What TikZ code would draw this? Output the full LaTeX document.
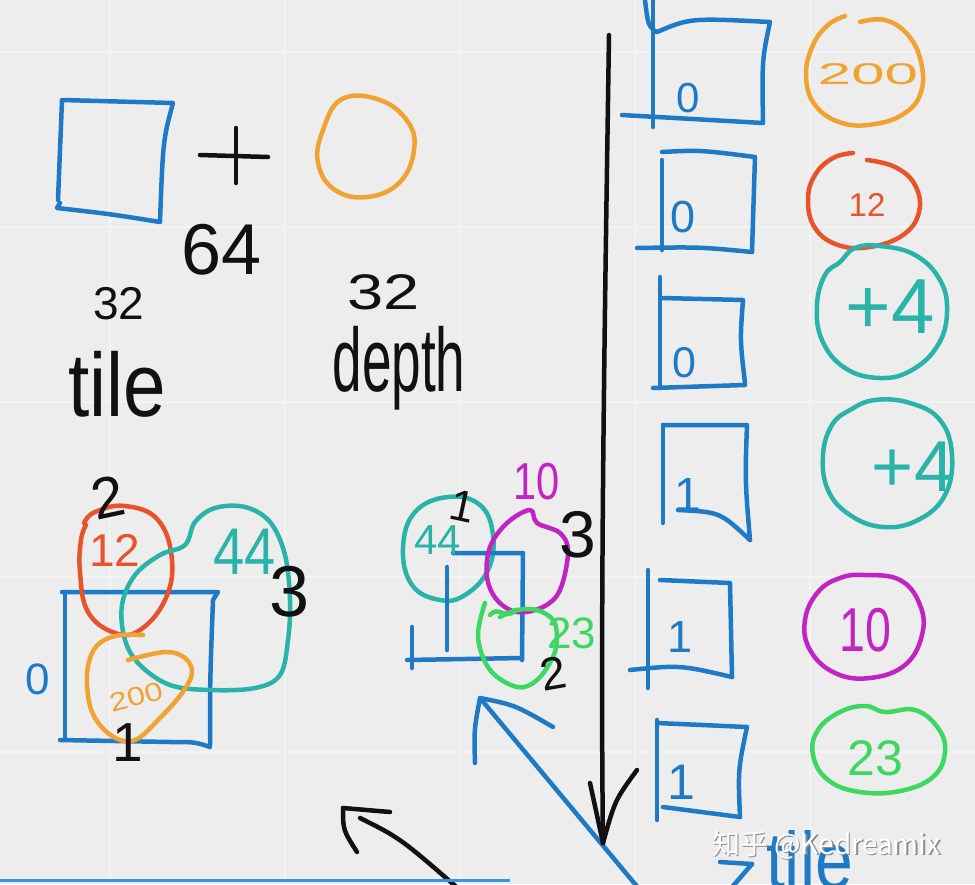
\documentclass[tikz,border=0pt]{standalone}
\usepackage{graphicx}
\usepackage{fontspec}
\setmainfont{Liberation Sans}
\newfontfamily\cjkfont{Noto Sans CJK SC}
\definecolor{cbg}{HTML}{EDEDED}
\definecolor{cgrid}{HTML}{F3F3F3}
\definecolor{cblue}{HTML}{1F7AC6}
\definecolor{corange}{HTML}{F0A232}
\definecolor{cred}{HTML}{E8532C}
\definecolor{cteal}{HTML}{2AB3A8}
\definecolor{cmag}{HTML}{C224C4}
\definecolor{cgreen}{HTML}{3DD862}
\definecolor{cblack}{HTML}{111111}
\definecolor{cbar}{HTML}{3399DD}
\newcommand\hfs[1]{\fontsize{#1}{#1}\selectfont}
\begin{document}
\begin{tikzpicture}[x=1pt,y=-1pt,
  pen/.style={line width=4.5pt,line cap=round,line join=round},
  bp/.style={pen,draw=cblue},
  op/.style={pen,draw=corange},
  rp/.style={pen,draw=cred},
  tp/.style={pen,draw=cteal},
  mp/.style={pen,draw=cmag},
  gp/.style={pen,draw=cgreen},
  kp/.style={pen,draw=cblack},
  txt/.style={inner sep=0pt,outer sep=0pt}]
\fill[cbg] (0,0) rectangle (975,884);
\useasboundingbox (0,0) rectangle (975,884);
\clip (0,0) rectangle (975,884);
% faint grid
\foreach \gx in {110,285,460,635,810} \draw[cgrid,line width=1.5pt] (\gx,0) -- (\gx,884);
\foreach \gy in {52,227,402,577,752} \draw[cgrid,line width=1.5pt] (0,\gy) -- (975,\gy);

% ---- top-left legend ----
\draw[bp] (58,200) -- (62,100) -- (173,103) .. controls (163,140) .. (160,222) .. controls (110,214) .. (57,208) -- (60,203);
\draw[kp] (200,155) -- (268,157);
\draw[kp] (236,128) -- (236,183);
\draw[op] plot[smooth cycle,tension=0.7] coordinates {(342,99) (380,100) (408,122) (414,150) (400,182) (368,197) (335,190) (318,163) (323,130)};
\node[txt,text=cblack,font=\hfs{72}] (t64) at (222,250) {64};
\node[txt,text=cblack,font=\hfs{46}] (t32a) at (119,304) {32};
\node[txt,text=cblack,font=\hfs{90},anchor=base] (ttile) at (117,416) {\scalebox{0.85}[1]{tile}};
\node[txt,text=cblack,font=\hfs{50}] (t32b) at (384,292) {\scalebox{1.3}[1]{32}};
\node[txt,text=cblack,font=\hfs{90},anchor=base] (tdepth) at (399,391) {\scalebox{0.59}[1]{depth}};

% ---- left group ----
\draw[bp] (65,595) -- (65,738);
\draw[bp] (62,592) -- (218,592) -- (213,600) .. controls (210,680) .. (210,745);
\draw[bp] (60,740) -- (170,742) .. controls (195,742) .. (210,747);
\draw[rp] plot[smooth,tension=0.7] coordinates {(84,523) (95,512) (125,506) (158,520) (172,560) (165,600) (140,630) (115,633) (88,612) (80,572) (81,540) (86,525)};
\draw[tp] plot[smooth cycle,tension=0.6] coordinates {(185,545) (160,555) (135,575) (122,605) (125,640) (140,665) (170,685) (210,690) (255,688) (280,675) (288,640) (290,600) (285,555) (270,522) (245,507) (215,508) (195,522)};
\draw[op] plot[smooth,tension=0.6] coordinates {(143,635) (115,636) (95,648) (87,675) (92,712) (112,736) (135,740) (160,718) (182,693) (192,673) (185,658) (165,652) (128,660)};
\node[txt,text=cblack,font=\hfs{58},rotate=12] (ltop) at (108,497) {2};
\node[txt,text=cred,font=\hfs{46}] (l12) at (115,550) {12};
\node[txt,text=cteal,font=\hfs{66}] (l44) at (245,552) {\scalebox{0.85}[1]{44}};
\node[txt,text=cblack,font=\hfs{72}] (l3) at (290,592) {3};
\node[txt,text=cblue,font=\hfs{44}] (l0) at (38,679) {0};
\node[txt,text=corange,font=\hfs{26},rotate=15] (l200) at (136,697) {\scalebox{1.25}[1]{200}};
\node[txt,text=cblack,font=\hfs{55}] (l1) at (128,743) {1};

% ---- middle group ----
\draw[tp] plot[smooth cycle,tension=0.7] coordinates {(403,548) (415,512) (448,497) (480,505) (493,535) (488,570) (465,595) (440,600) (412,585)};
\draw[bp] (453,553) -- (523,553) -- (522,660);
\draw[bp] (407,660) -- (522,658);
\draw[bp] (447,567) -- (447,650);
\draw[bp] (412,627) -- (412,668);
\draw[mp] plot[smooth cycle,tension=0.6] coordinates {(530,510) (537,523) (560,533) (568,552) (560,590) (543,607) (517,612) (497,600) (487,577) (490,547) (507,523)};
\draw[gp] plot[smooth,tension=0.6] coordinates {(485,603) (478,637) (490,670) (517,687) (537,680) (553,657) (557,637) (553,620) (537,610) (517,610) (500,617)};
\draw[gp] (490,615) .. controls (498,605) and (505,620) .. (515,611);
\node[txt,text=cteal,font=\hfs{42}] (m44) at (438,540) {44};
\node[txt,text=cblack,font=\hfs{44},rotate=-12] (m1) at (463,506) {1};
\node[txt,text=cmag,font=\hfs{52}] (m10) at (537,482) {\scalebox{0.8}[1]{10}};
\node[txt,text=cblack,font=\hfs{66}] (m3) at (578,535) {3};
\node[txt,text=cgreen,font=\hfs{44}] (m23) at (572,633) {23};
\node[txt,text=cblack,font=\hfs{46},rotate=10] (m2) at (553,673) {2};
% blue arrow
\coordinate (atip) at (480,698);
\coordinate (aend) at (640,890);
\draw[bp] (aend) -- (atip);
\draw[bp] (475,763) .. controls (474,730) .. (atip) .. controls (515,705) .. (553,727);

% ---- black arrows ----
\coordinate (vtop) at (609,35);
\coordinate (vbot) at (603,843);
\draw[kp] (vtop) .. controls (605,300) and (600,600) .. (vbot);
\draw[kp] (590,783) -- (vbot);
\draw[kp] (637,770) .. controls (615,800) .. (vbot);
\coordinate (btip) at (343,808);
\coordinate (bend) at (460,890);
\draw[kp] (btip) -- (390,812);
\draw[kp] (btip) .. controls (343,830) .. (357,852);
\draw[kp] (360,818) .. controls (400,838) .. (bend);

% ---- right column squares ----
\draw[bp] (653,0) -- (653,127);
\draw[bp] (645,0) .. controls (648,25) .. (656,32);
\draw[bp] (657,32) .. controls (690,18) .. (770,22) .. controls (762,60) .. (763,122);
\draw[bp] (622,115) -- (763,123);
\draw[bp] (662,160) -- (662,250);
\draw[bp] (662,152) .. controls (700,150) .. (755,157) -- (752,252);
\draw[bp] (637,248) .. controls (700,247) .. (752,252);
\draw[bp] (660,277) -- (660,388);
\draw[bp] (662,298) -- (743,300) .. controls (740,340) .. (745,383);
\draw[bp] (653,388) -- (745,385);
\draw[bp] (663,425) -- (663,523);
\draw[bp] (663,425) -- (747,425) .. controls (745,480) .. (750,540);
\draw[bp] (678,510) .. controls (720,512) .. (750,540);
\draw[bp] (648,570) -- (648,688);
\draw[bp] (660,580) -- (730,583) -- (732,677);
\draw[bp] (630,670) .. controls (680,665) .. (732,677);
\draw[bp] (657,720) -- (657,820);
\draw[bp] (657,723) -- (747,727) .. controls (738,770) .. (740,817);
\draw[bp] (663,807) -- (740,817);
\node[txt,text=cblue,font=\hfs{42}] (r0a) at (688,98) {0};
\node[txt,text=cblue,font=\hfs{45}] (r0b) at (683,217) {0};
\node[txt,text=cblue,font=\hfs{43}] (r0c) at (684,363) {0};
\node[txt,text=cblue,font=\hfs{48}] (r1a) at (688,495) {1};
\node[txt,text=cblue,font=\hfs{45}] (r1b) at (680,637) {1};
\node[txt,text=cblue,font=\hfs{50}] (r1c) at (681,782) {1};

% ---- right column circles ----
\draw[op] plot[smooth,tension=0.7] coordinates {(860,22) (885,20) (908,35) (921,62) (921,92) (905,113) (875,124) (842,123) (815,105) (806,75) (813,45) (828,25) (845,16)};
\draw[rp] plot[smooth,tension=0.7] coordinates {(867,160) (895,167) (915,185) (919,212) (903,235) (870,247) (838,245) (815,228) (808,200) (815,175) (833,158) (853,153)};
\draw[tp] plot[smooth cycle,tension=0.7] coordinates {(855,248) (880,246) (915,255) (940,280) (947,312) (938,345) (912,370) (880,378) (845,368) (822,340) (817,305) (825,275) (840,262)};
\draw[tp] plot[smooth cycle,tension=0.7] coordinates {(850,410) (875,400) (910,403) (940,420) (952,455) (945,495) (918,520) (883,527) (850,515) (828,490) (823,455) (832,425)};
\draw[mp] plot[smooth cycle,tension=0.7] coordinates {(864,575) (900,580) (920,605) (922,635) (905,665) (870,678) (835,673) (810,650) (805,620) (818,592) (840,578)};
\draw[gp] plot[smooth cycle,tension=0.7] coordinates {(840,712) (865,706) (885,712) (915,710) (938,728) (945,752) (933,777) (900,791) (860,792) (828,780) (813,755) (818,730)};
\node[txt,text=corange,font=\hfs{30}] (c200) at (868,74) {\scalebox{2}[1]{200}};
\node[txt,text=cred,font=\hfs{33}] (c12) at (867,205) {12};
\node[txt,text=cteal,font=\hfs{78}] (c4a) at (890,307) {+4};
\node[txt,text=cteal,font=\hfs{72}] (c4b) at (913,467) {+4};
\node[txt,text=cmag,font=\hfs{62}] (c10) at (865,630) {\scalebox{0.75}[1]{10}};
\node[txt,text=cgreen,font=\hfs{50}] (c23) at (875,758) {23};

% ---- bottom right blue tile ----
\node[txt,text=cblue,font=\hfs{80},anchor=base west] (btile) at (766,888) {\scalebox{0.85}[1]{tile}};
\draw[bp] (720,862) -- (752,864);
\draw[bp] (733,886) -- (752,864);

% progress bar
\draw[cbar,line width=3pt] (0,880) -- (510,880);

% watermark
\node[txt,text=black!45,font=\cjkfont\hfs{28},anchor=west] (wms) at (713.5,846.5) {知乎 @Kedreamix};
\node[txt,text=white,font=\cjkfont\hfs{28},anchor=west] (wm) at (712,845) {知乎 @Kedreamix};
\end{tikzpicture}
\end{document}
